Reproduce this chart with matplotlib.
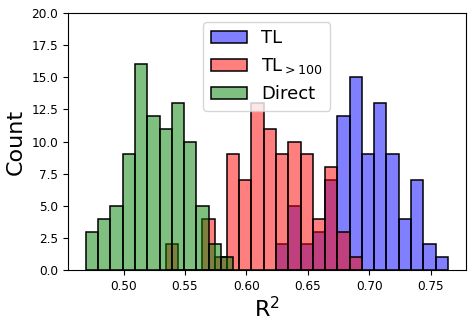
import numpy as np
import matplotlib
matplotlib.use('Agg')
import matplotlib.pyplot as plt
from matplotlib.colors import to_rgba

# bin starts and counts (bin width 0.01)
bin_width = 0.01
tl_start = 0.6241
tl_counts = [2, 5, 2, 3, 7, 12, 15, 9, 13, 9, 4, 7, 2, 1]
tl100_start = 0.5341
tl100_counts = [2, 0, 0, 4, 1, 9, 7, 13, 11, 9, 10, 9, 4, 8, 3, 1]
direct_start = 0.4692
direct_counts = [3, 4, 5, 9, 16, 12, 11, 13, 10, 5, 2, 1]

series = [
    ("TL", tl_start, tl_counts, "blue"),
    ("TL$_{>100}$", tl100_start, tl100_counts, "red"),
    ("Direct", direct_start, direct_counts, "green"),
]

fig = plt.figure(figsize=(4.74, 3.25), dpi=100)
ax = fig.add_axes([0.143, 0.169, 0.84, 0.791])

for label, start, counts, color in series:
    edges = start + bin_width * np.arange(len(counts) + 1)
    # transparent fill, solid black outline
    ax.hist(edges[:-1], bins=edges, weights=counts, facecolor=to_rgba(color, 0.5),
            edgecolor="black", linewidth=1.1, label=label)

ax.set_ylim(0, 20)
ax.set_xticks([0.50, 0.55, 0.60, 0.65, 0.70, 0.75])
ax.tick_params(labelsize=8.7)
ax.set_xlabel("R$^2$", fontsize=16, labelpad=2)
ax.set_ylabel("Count", fontsize=16)
ax.legend(loc="upper center", fontsize=13)

fig.savefig("out.png", dpi=100)
